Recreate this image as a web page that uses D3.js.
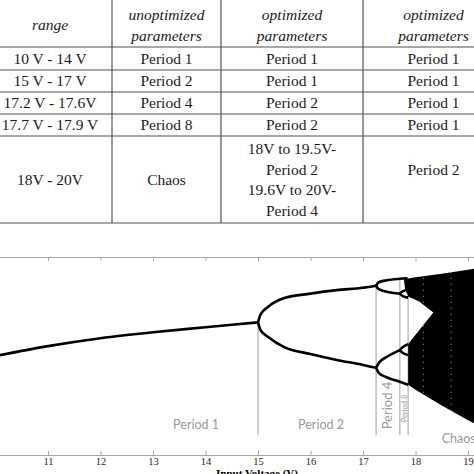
<!DOCTYPE html>
<meta charset="utf-8">
<title>Bifurcation table</title>
<style>
body { margin: 0; background: #fff; }
svg { display: block; }
.rule { stroke: #505050; stroke-width: 1.2; }
.cell { font-family: "Liberation Serif", "Times New Roman", serif; font-size: 15.5px; fill: #1a1a1a; text-anchor: middle; }
.head { font-style: italic; }
.branch { fill: none; stroke: #000; stroke-width: 2.6; stroke-linejoin: round; }
.bound { stroke: #c4c4c4; stroke-width: 1.6; }
.zone { font-family: Lato, "Open Sans", sans-serif; fill: #999; }
.axis path, .axis line { stroke: #a8a8a8; }
.axis text { font-family: "Liberation Serif", serif; font-size: 10.5px; fill: #222; }
</style>
<body>
<script src="https://d3js.org/d3.v7.min.js"></script>
<script>

var width = 474, height = 474;

// table contents
var headers = [["range"], ["unoptimized", "parameters"], ["optimized", "parameters"], ["optimized", "parameters"]];
var ranges = ["10 V - 14 V", "15 V - 17 V", "17.2 V - 17.6V", "17.7 V - 17.9 V", "18V - 20V"];
var unoptimized = ["Period 1", "Period 2", "Period 4", "Period 8", "Chaos"];
var optimizedA = ["Period 1", "Period 1", "Period 2", "Period 2", ["18V to 19.5V-", "Period 2", "19.6V to 20V-", "Period 4"]];
var optimizedB = ["Period 1", "Period 1", "Period 1", "Period 1", ["", "Period 2", "", ""]];

// bifurcation diagram, [input voltage, state value]
var voltageTicks = [11, 12, 13, 14, 15, 16, 17, 18, 19];
var period1 = [[10, 1.0], [11, 1.10], [12, 1.18], [13, 1.24], [14, 1.29], [15, 1.34]];
var period2 = [
  [[15, 1.34], [15.05, 1.42], [15.2, 1.50], [15.5, 1.585], [16, 1.63], [16.5, 1.665], [17, 1.69], [17.25, 1.71]],
  [[15, 1.34], [15.05, 1.26], [15.2, 1.19], [15.5, 1.09], [16, 1.02], [16.5, 0.96], [17, 0.91], [17.25, 0.88]]
];
var period4 = [
  [[17.25, 1.71], [17.3, 1.745], [17.45, 1.765], [17.7, 1.78], [17.85, 1.785]],
  [[17.25, 1.71], [17.3, 1.675], [17.45, 1.65], [17.7, 1.63]],
  [[17.25, 0.88], [17.3, 0.93], [17.45, 0.99], [17.7, 1.06]],
  [[17.25, 0.88], [17.3, 0.83], [17.45, 0.785], [17.7, 0.74], [17.86, 0.71]]
];
var period8 = [
  [[17.7, 1.63], [17.76, 1.655], [17.86, 1.67]],
  [[17.7, 1.63], [17.76, 1.605], [17.86, 1.59]],
  [[17.7, 1.06], [17.76, 1.09], [17.86, 1.12]],
  [[17.7, 1.06], [17.76, 1.03], [17.86, 1.01]]
];
var chaosEdge = [
  [17.78, 1.775], [18, 1.795], [18.5, 1.83], [19, 1.87], [19.3, 1.9],
  [19.3, 0.27], [19, 0.35], [18.5, 0.50], [18, 0.66], [17.86, 0.71],
  [17.86, 1.12], [18.07, 1.26], [18.34, 1.44], [18.07, 1.55], [17.86, 1.60], [17.8, 1.68]
];
var windows = [18.15, 18.68];
var boundaryV = [15, 17.25, 17.7, 17.86];
var boundaryTop = [1.34, 1.71, 1.78, 1.60];
var zoneNames = ["Period 1", "Period 2", "Period 4", "Period 8", "Chaos"];

var svg = d3.select("body").append("svg")
    .attr("width", width)
    .attr("height", height);

// ---- table ----
var colEdges = [-12, 112, 221, 363, 504],
    rowEdges = [3, 47, 70, 92, 114, 136, 223],
    lineH = 20.5;

var columns = [ranges, unoptimized, optimizedA, optimizedB];
var table = svg.append("g");

rowEdges.slice(1).forEach(function(yy) {
  table.append("line").attr("class", "rule")
    .attr("x1", 0).attr("x2", width).attr("y1", yy).attr("y2", yy);
});
colEdges.slice(1, 4).forEach(function(xx) {
  table.append("line").attr("class", "rule")
    .attr("x1", xx).attr("x2", xx).attr("y1", 0).attr("y2", rowEdges[6]);
});

function drawCell(lines, c, r, cls) {
  var cx = (colEdges[c] + colEdges[c + 1]) / 2,
      cy = (rowEdges[r] + rowEdges[r + 1]) / 2;
  lines.forEach(function(t, k) {
    table.append("text").attr("class", cls)
      .attr("x", cx)
      .attr("y", cy + (k - (lines.length - 1) / 2) * lineH)
      .attr("dy", "0.35em")
      .text(t);
  });
}

headers.forEach(function(h, c) { drawCell(h, c, 0, "cell head"); });
columns.forEach(function(col, c) {
  col.forEach(function(cell, r) {
    drawCell(Array.isArray(cell) ? cell : [cell], c, r + 1, "cell");
  });
});

// ---- bifurcation diagram ----
var x = d3.scaleLinear().domain([10, 19.2]).range([-4.5, 478.5]);
var y = d3.scaleLinear().domain([0, 2]).range([455, 257]);

var chart = svg.append("g");

chart.append("g").attr("class", "axis")
    .attr("transform", "translate(0," + y(2) + ")")
    .call(d3.axisBottom(x).tickValues(voltageTicks).tickSize(4).tickSizeOuter(0).tickFormat(""));

chart.append("g").attr("class", "axis")
    .attr("transform", "translate(0," + y(0) + ")")
    .call(d3.axisBottom(x).tickValues(voltageTicks).tickSizeInner(-4).tickSizeOuter(0).tickPadding(3));

chart.append("text")
    .attr("x", 257).attr("y", 477)
    .attr("text-anchor", "middle")
    .style("font-family", "'Liberation Serif', serif")
    .style("font-weight", "bold")
    .style("font-size", "11px")
    .text("Input Voltage (V)");

// region boundaries
chart.selectAll(".bound")
  .data(boundaryV)
  .enter().append("line")
    .attr("class", "bound")
    .attr("x1", function(d) { return x(d); })
    .attr("x2", function(d) { return x(d); })
    .attr("y1", function(d, i) { return y(boundaryTop[i]); })
    .attr("y2", y(0.2));

// chaotic band
var poly = d3.line().x(function(d) { return x(d[0]); }).y(function(d) { return y(d[1]); })
    .curve(d3.curveLinearClosed);

svg.append("defs").append("clipPath").attr("id", "chaosClip")
  .append("path").attr("d", poly(chaosEdge));

chart.append("path")
    .attr("d", poly(chaosEdge))
    .attr("fill", "#000");

chart.append("g").attr("clip-path", "url(#chaosClip)")
  .selectAll("line")
  .data(windows)
  .enter().append("line")
    .attr("x1", function(d) { return x(d); })
    .attr("x2", function(d) { return x(d); })
    .attr("y1", y(1.85)).attr("y2", y(0.4))
    .attr("stroke", "#fff")
    .attr("stroke-width", 1.2)
    .attr("stroke-dasharray", "1,5")
    .attr("opacity", 0.6);

// periodic branches
var line = d3.line().x(function(d) { return x(d[0]); }).y(function(d) { return y(d[1]); })
    .curve(d3.curveMonotoneX);

var branches = [period1].concat(period2, period4, period8);
chart.selectAll(".branch")
  .data(branches)
  .enter().append("path")
    .attr("class", "branch")
    .attr("d", line);

// region names
chart.append("text").attr("class", "zone")
    .attr("x", x(13.82)).attr("y", y(0.26))
    .attr("text-anchor", "middle").style("font-size", "12.5px").text(zoneNames[0]);
chart.append("text").attr("class", "zone")
    .attr("x", x(16.2)).attr("y", y(0.26))
    .attr("text-anchor", "middle").style("font-size", "12.5px").text(zoneNames[1]);
chart.append("text").attr("class", "zone")
    .attr("transform", "translate(" + (x(17.48) + 4) + "," + y(0.5) + ") rotate(-90)")
    .attr("text-anchor", "middle").style("font-size", "13px").text(zoneNames[2]);
chart.append("text").attr("class", "zone")
    .attr("transform", "translate(" + (x(17.78) + 3) + "," + y(0.47) + ") rotate(-90)")
    .attr("text-anchor", "middle").style("font-size", "7.5px").text(zoneNames[3]);
chart.append("text").attr("class", "zone")
    .attr("x", x(18.5)).attr("y", y(0.12))
    .style("font-size", "12.5px").text(zoneNames[4]);

</script>
